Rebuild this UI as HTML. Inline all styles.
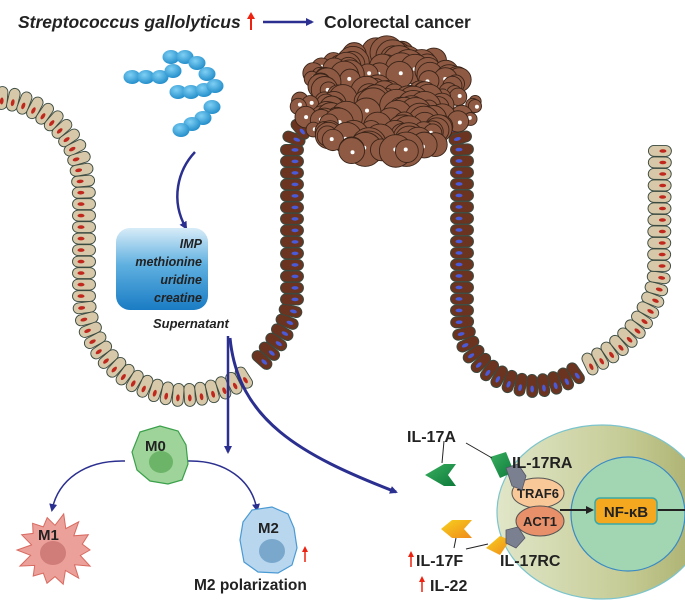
<!DOCTYPE html>
<html><head><meta charset="utf-8"><style>
html,body{margin:0;padding:0;background:#fff;width:685px;height:615px;overflow:hidden}
svg{display:block}
text{font-family:"Liberation Sans",Arial,sans-serif;font-weight:bold}
</style></head><body>
<svg id="s" width="685" height="615" viewBox="0 0 685 615" xmlns="http://www.w3.org/2000/svg">
<defs>
<linearGradient id="box" x1="0" y1="0" x2="0" y2="1"><stop offset="0" stop-color="#d8ecf8"/><stop offset="0.45" stop-color="#5fb0e0"/><stop offset="1" stop-color="#1a7cc4"/></linearGradient>
<linearGradient id="cellg" x1="0" y1="0" x2="1" y2="0"><stop offset="0" stop-color="#e0e6c8"/><stop offset="0.6" stop-color="#c6cc96"/><stop offset="1" stop-color="#a8ad6a"/></linearGradient>
<linearGradient id="grn" x1="0" y1="0" x2="1" y2="1"><stop offset="0" stop-color="#3ab060"/><stop offset="1" stop-color="#0d7a3a"/></linearGradient>
<linearGradient id="org" x1="0" y1="0" x2="1" y2="1"><stop offset="0" stop-color="#f7d21e"/><stop offset="1" stop-color="#f08a1a"/></linearGradient>
<radialGradient id="bac" cx="0.4" cy="0.35" r="0.7"><stop offset="0" stop-color="#7fd0f4"/><stop offset="1" stop-color="#1e8ac8"/></radialGradient>
<marker id="ah" markerWidth="8" markerHeight="8" refX="6" refY="4" orient="auto" markerUnits="userSpaceOnUse"><path d="M0,0 L8,4 L0,8 Z" fill="#2b2f8f"/></marker>
<marker id="ahb" markerWidth="8" markerHeight="8" refX="6" refY="4" orient="auto" markerUnits="userSpaceOnUse"><path d="M0,0 L8,4 L0,8 Z" fill="#222"/></marker>
</defs>

<text x="18" y="28" font-size="17.5" font-style="italic" fill="#222">Streptococcus gallolyticus</text>
<path d="M251,30 L251,16" stroke="#e21" stroke-width="2"/><path d="M247,19 L251,12 L255,19Z" fill="#e21"/>
<line x1="263" y1="22" x2="312" y2="22" stroke="#2b2f8f" stroke-width="2.5" marker-end="url(#ah)"/>

<g id="crypt"></g>
<g id="tumor"></g>
<g id="bact"></g>
<text x="324" y="28" font-size="17.5" fill="#222">Colorectal cancer</text>

<path d="M195,152 C178,170 170,200 186,228" fill="none" stroke="#2b2f8f" stroke-width="2.5" marker-end="url(#ah)"/>
<rect x="116" y="228" width="92" height="82" rx="14" fill="url(#box)"/>
<g font-size="12.5" font-style="italic" fill="#222" text-anchor="end">
<text x="202" y="248">IMP</text><text x="202" y="266">methionine</text><text x="202" y="284">uridine</text><text x="202" y="302">creatine</text></g>
<text x="153" y="328" font-size="13" font-style="italic" fill="#222">Supernatant</text>

<line x1="228" y1="336" x2="228" y2="452" stroke="#2b2f8f" stroke-width="2.5" marker-end="url(#ah)"/>
<path d="M230,338 C238,420 300,455 396,492" fill="none" stroke="#2b2f8f" stroke-width="3" marker-end="url(#ah)"/>
<path d="M125,461 C85,460 58,480 52,510" fill="none" stroke="#2b2f8f" stroke-width="1.5" marker-end="url(#ah)"/>
<path d="M188,461 C225,460 252,480 257,510" fill="none" stroke="#2b2f8f" stroke-width="1.5" marker-end="url(#ah)"/>

<path d="M140,432 L160,426 L178,431 L186,445 L188,464 L182,480 L168,484 L150,481 L137,470 L132,452 Z" fill="#9ed49a" stroke="#3aa04a" stroke-width="1.2"/>
<ellipse cx="161" cy="462" rx="12" ry="11" fill="#6cb468"/>
<text x="145" y="451" font-size="15" fill="#222">M0</text>

<path id="m1" fill="#eba09a" stroke="#d86a60" stroke-width="1"/>
<ellipse cx="53" cy="553" rx="13" ry="12" fill="#d07c78"/>
<text x="38" y="540" font-size="15" fill="#222">M1</text>

<path d="M252,510 L272,507 L288,514 L294,528 L297,548 L292,565 L278,573 L258,572 L244,562 L240,540 L243,522 Z" fill="#b8d6ee" stroke="#4a9ad4" stroke-width="1.2"/>
<ellipse cx="272" cy="551" rx="13" ry="12" fill="#7aa8cc"/>
<text x="258" y="533" font-size="15" fill="#222">M2</text>
<path d="M305,562 L305,550" stroke="#e21" stroke-width="1.5"/><path d="M302,552 L305,546 L308,552Z" fill="#e21"/>
<text x="194" y="590" font-size="15.5" fill="#222">M2 polarization</text>

<ellipse cx="602" cy="512" rx="105" ry="87" fill="url(#cellg)" stroke="#7cc4cc" stroke-width="1.2"/>
<circle cx="628" cy="514" r="57" fill="#a2d6b2" stroke="#3a8ac4" stroke-width="1.2"/>
<line x1="560" y1="510" x2="592" y2="510" stroke="#222" stroke-width="2" marker-end="url(#ahb)"/>
<line x1="656" y1="510" x2="685" y2="510" stroke="#222" stroke-width="2"/>
<rect x="595" y="498" width="62" height="26" rx="5" fill="#f4a820" stroke="#3aa8a8" stroke-width="1.5"/>
<text x="626" y="517" font-size="15" fill="#222" text-anchor="middle">NF-κB</text>
<ellipse cx="538" cy="493" rx="26" ry="15" fill="#f8c898" stroke="#555" stroke-width="1"/>
<text x="538" y="498" font-size="13" fill="#222" text-anchor="middle">TRAF6</text>
<ellipse cx="540" cy="521" rx="24" ry="15" fill="#e8906a" stroke="#555" stroke-width="1"/>
<text x="540" y="526" font-size="13" fill="#222" text-anchor="middle">ACT1</text>

<path d="M490,457 L506,452 L514,472 L500,478 Z" fill="url(#grn)"/>
<path d="M506,468 L518,464 L526,476 L522,490 L512,486 Z" fill="#7a8090" stroke="#556" stroke-width="0.8"/>
<path d="M486,548 L500,536 L510,540 L500,555 Z" fill="url(#org)"/>
<path d="M506,530 L518,527 L525,538 L516,548 L506,543 Z" fill="#7a8090" stroke="#556" stroke-width="0.8"/>
<path d="M425,475 L444,464 L456,464 L448,475 L456,486 L444,486 Z" fill="url(#grn)"/>
<path d="M441,529 L452,520 L472,520 L464,529 L472,538 L452,538 Z" fill="url(#org)"/>
<line x1="444" y1="441" x2="442" y2="463" stroke="#222" stroke-width="1"/>
<line x1="466" y1="443" x2="492" y2="458" stroke="#222" stroke-width="1"/>
<line x1="456" y1="538" x2="454" y2="548" stroke="#222" stroke-width="1"/>
<line x1="466" y1="549" x2="488" y2="544" stroke="#222" stroke-width="1"/>
<text x="407" y="442" font-size="16" fill="#222">IL-17A</text>
<text x="512" y="468" font-size="16" fill="#222">IL-17RA</text>
<text x="416" y="566" font-size="16" fill="#222">IL-17F</text>
<path d="M411,567 L411,555" stroke="#e21" stroke-width="1.5"/><path d="M408,557 L411,551 L414,557Z" fill="#e21"/>
<text x="430" y="591" font-size="16" fill="#222">IL-22</text>
<path d="M422,592 L422,580" stroke="#e21" stroke-width="1.5"/><path d="M419,582 L422,576 L425,582Z" fill="#e21"/>
<text x="500" y="566" font-size="16" fill="#222">IL-17RC</text>
</svg>
<script>
(function(){
var NS="http://www.w3.org/2000/svg",s=document.getElementById('s');
function el(t,a,p){var e=document.createElementNS(NS,t);for(var k in a)e.setAttribute(k,a[k]);(p||s).appendChild(e);return e;}
var crypt=document.getElementById('crypt');
function row(d,fill,nuc,sp){
 var p=el('path',{d:d,fill:'none'},crypt);var L=p.getTotalLength();
 for(var l=0;l<=L;l+=sp){var a=p.getPointAtLength(l),b=p.getPointAtLength(Math.min(L,l+1)),c=p.getPointAtLength(Math.max(0,l-1));
  var ang=Math.atan2(b.y-c.y,b.x-c.x)*180/Math.PI;
  var g=el('g',{transform:'translate('+a.x+','+a.y+') rotate('+ang+')'},crypt);
  el('rect',{x:-sp/2+0.3,y:-11.5,width:sp-0.6,height:23,rx:5.5,fill:fill,stroke:'#3a4a40','stroke-width':0.9},g);
  el('ellipse',{cx:0,cy:3,rx:1.8,ry:3.5,fill:nuc},g);}
}
row("M2,98 C30,100 62,120 76,150 C84,170 84,190 84,210 L84,300 C86,350 130,392 180,395 C210,396 235,385 252,372",'#d6c8a8','#c0281e',11.5);
row("M262,360 C280,340 291,320 292,300 L292,150 C292,140 296,132 302,128",'#6a3420','#4a5ad8',11.5);
row("M455,128 C460,134 462,142 462,152 L462,320 C464,360 500,384 530,386 C555,386 570,378 580,370",'#6a3420','#4a5ad8',11.5);
row("M590,364 C630,345 655,310 659,275 L660,140",'#d6c8a8','#c0281e',11.5);
var tu=document.getElementById('tumor'),seed=11;function r(){seed=(seed*9301+49297)%233280;return seed/233280;}
var pts=[];for(var i=0;i<170;i++){var ang=r()*6.283,rad=Math.sqrt(r());var x=385+Math.cos(ang)*rad*92,y=103+Math.sin(ang)*rad*52;if(y>152||y<48)continue;var f=Math.max(0,1-Math.pow(Math.abs(x-385)/100,2)*0.6);pts.push([x,y,(10+r()*8)*f]);}
pts.sort(function(a,b){return a[1]-b[1]});
pts.forEach(function(p){var rr=Math.max(6,p[2]);el('circle',{cx:p[0],cy:p[1],r:rr,fill:'#8e5a44',stroke:'#3a2418','stroke-width':0.9},tu);el('circle',{cx:p[0]+(r()-0.5)*4,cy:p[1]+(r()-0.5)*4,r:2,fill:'#fff'},tu);});
var bt=document.getElementById('bact');
[[132,77],[146,77],[160,77],[173,71],[171,57],[185,57],[197,63],[207,74],[178,92],[191,92],[204,90],[215,86],[212,107],[203,118],[192,124],[181,130]].forEach(function(b){el('ellipse',{cx:b[0],cy:b[1],rx:8.5,ry:7,fill:'url(#bac)'},bt);});
var m=document.getElementById('m1'),d='';for(var i=0;i<28;i++){var a=i/28*6.283,R=(i%2?24:35)+((i*7)%5);d+=(i?'L':'M')+(55+Math.cos(a)*R).toFixed(1)+','+(550+Math.sin(a)*R*0.95).toFixed(1);}m.setAttribute('d',d+'Z');
})();
</script>
</body></html>
